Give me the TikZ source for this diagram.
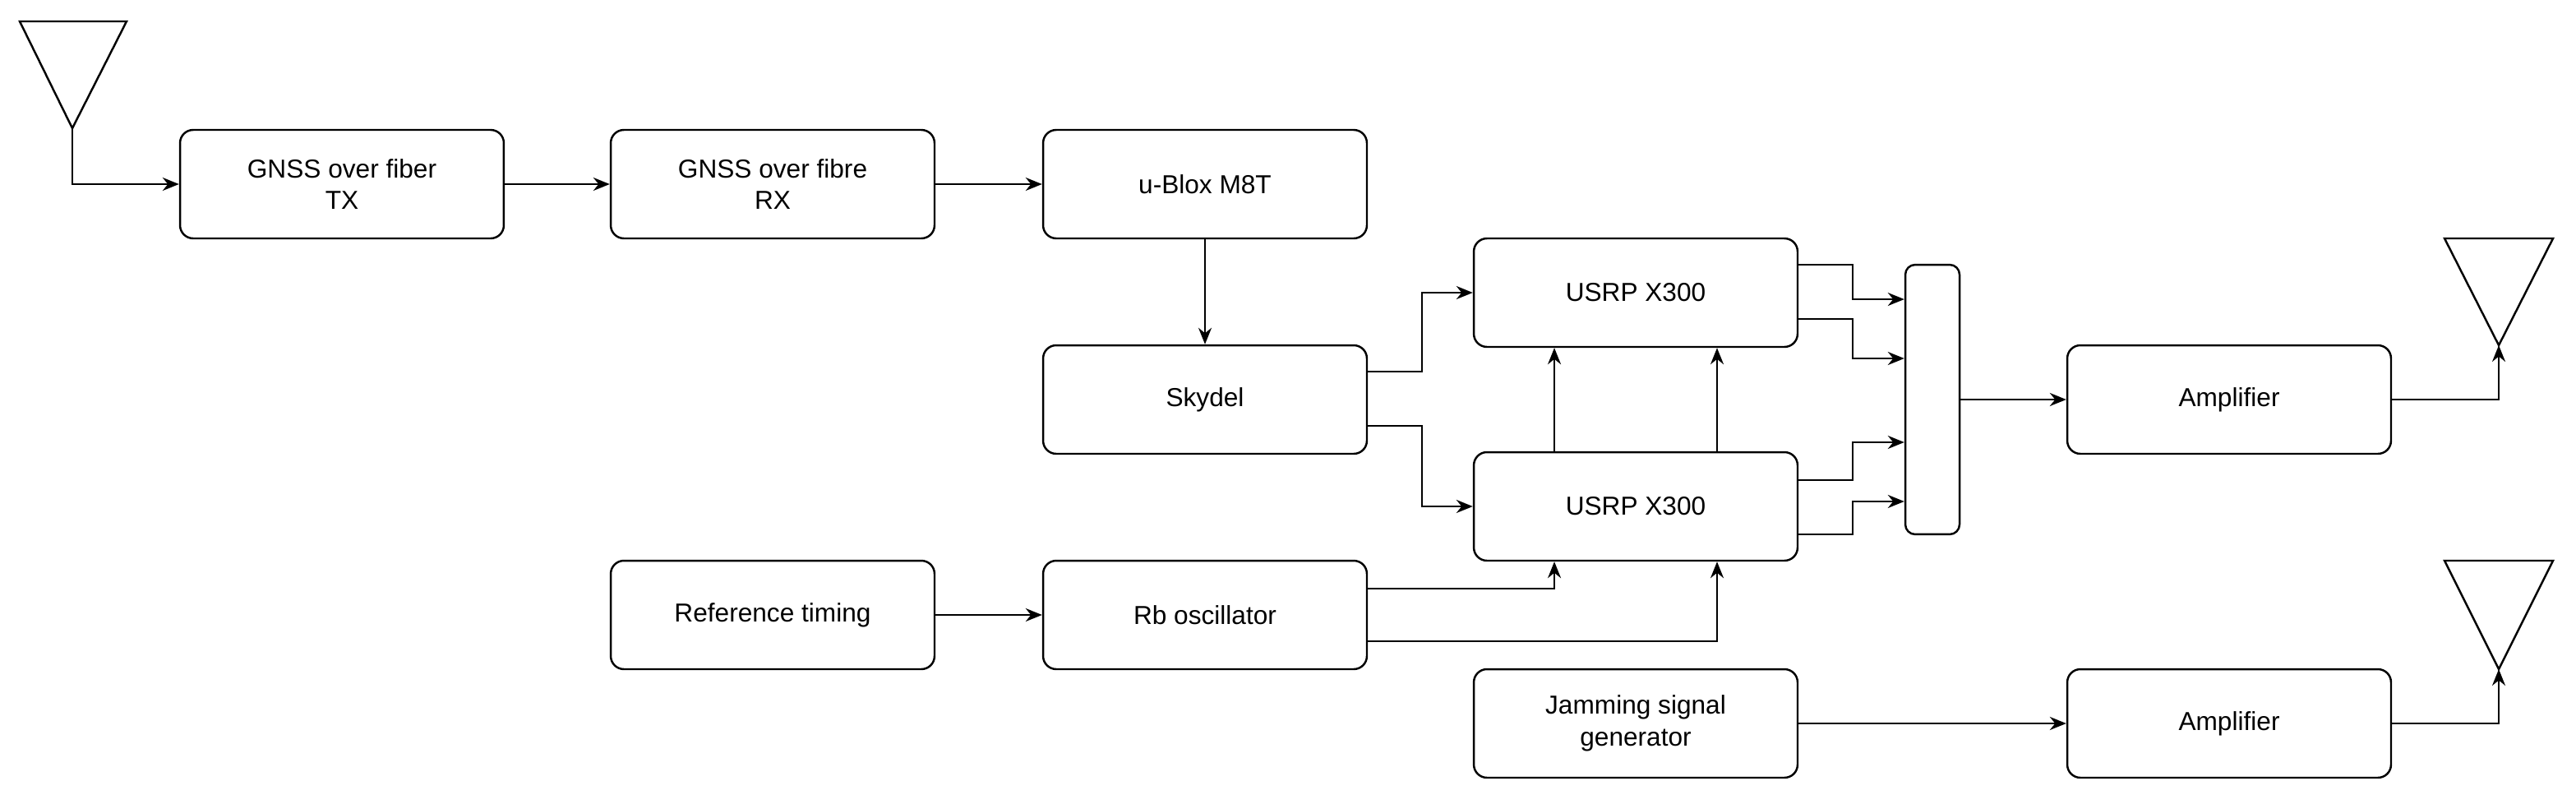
\documentclass[tikz,border=0pt]{standalone}
\usepackage{fontspec}
\setmainfont{Liberation Sans}
\usetikzlibrary{arrows.meta}
\tikzset{
  blk/.style={draw,rounded corners=0.16cm,minimum width=3.94cm,minimum height=1.32cm,align=center,font=\fontsize{9}{11}\selectfont,line width=0.7pt},
  arr/.style={-{Stealth[length=0.2cm,width=0.16cm]},line width=0.7pt},
  ant/.style={draw,line width=0.7pt}
}
\begin{document}
\begin{tikzpicture}[x=0.02cm,y=-0.02cm]
\useasboundingbox (0,0) rectangle (1567,488.5);
% blocks
\node[blk] (tx) at (208,112) {GNSS over fiber\\TX};
\node[blk] (rx) at (470,112) {GNSS over fibre\\RX};
\node[blk] (ublox) at (733,112) {u-Blox M8T};
\node[blk] (sky) at (733,243) {Skydel};
\node[blk] (usrpA) at (995,178) {USRP X300};
\node[blk] (usrpB) at (995,308) {USRP X300};
\node[blk] (ref) at (470,374) {Reference timing};
\node[blk] (rb) at (733,374) {Rb oscillator};
\node[blk] (jam) at (995,440) {Jamming signal\\generator};
\node[draw,rounded corners=0.12cm,minimum width=0.66cm,minimum height=3.28cm,line width=0.7pt] (comb) at (1175.5,243) {};
\node[blk] (amp1) at (1356,243) {Amplifier};
\node[blk] (amp2) at (1356,440) {Amplifier};
% antennas
\draw[ant] (12,13) -- (77,13) -- (44,78) -- cycle;
\draw[ant] (1487,145) -- (1553,145) -- (1520,210) -- cycle;
\draw[ant] (1487,341) -- (1553,341) -- (1520,407) -- cycle;
\coordinate (ant1) at (44,78);
\coordinate (ant2) at (1520,210);
\coordinate (ant3) at (1520,407);
% connectors
\draw[arr] (ant1) |- (tx.west);
\draw[arr] (tx) -- (rx);
\draw[arr] (rx) -- (ublox);
\draw[arr] (ublox) -- (sky);
\draw[arr] ([yshift=0.34cm]sky.east) -- ++(0.66cm,0) |- (usrpA.west);
\draw[arr] ([yshift=-0.32cm]sky.east) -- ++(0.66cm,0) |- (usrpB.west);
\draw[arr] ([xshift=-0.99cm]usrpB.north) -- ([xshift=-0.99cm]usrpA.south);
\draw[arr] ([xshift=0.99cm]usrpB.north) -- ([xshift=0.99cm]usrpA.south);
\draw[arr] (ref) -- (rb);
\draw[arr] ([yshift=0.32cm]rb.east) -| ([xshift=-0.99cm]usrpB.south);
\draw[arr] ([yshift=-0.32cm]rb.east) -| ([xshift=0.99cm]usrpB.south);
\draw[arr] ([yshift=0.34cm]usrpA.east) -- ++(0.66cm,0) |- ([yshift=1.22cm]comb.west);
\draw[arr] ([yshift=-0.32cm]usrpA.east) -- ++(0.66cm,0) |- ([yshift=0.5cm]comb.west);
\draw[arr] ([yshift=0.32cm]usrpB.east) -- ++(0.66cm,0) |- ([yshift=-0.52cm]comb.west);
\draw[arr] ([yshift=-0.34cm]usrpB.east) -- ++(0.66cm,0) |- ([yshift=-1.24cm]comb.west);
\draw[arr] (comb) -- (amp1);
\draw[arr] (jam) -- (amp2);
\draw[arr] (amp1.east) -| (ant2);
\draw[arr] (amp2.east) -| (ant3);
\end{tikzpicture}
\end{document}
